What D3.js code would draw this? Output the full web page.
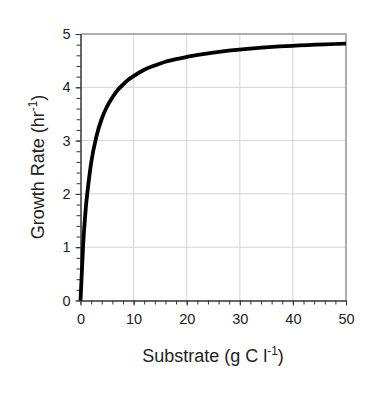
<!DOCTYPE html>
<html>
<head>
<meta charset="utf-8">
<script src="https://cdn.jsdelivr.net/npm/d3@7"></script>
<style>
  body { margin: 0; background: #fff; }
  text { font-family: "Liberation Sans", Arial, sans-serif; fill: #222; }
</style>
</head>
<body>
<svg width="389" height="393"></svg>
<script>
// substrate (g C / l) and growth rate (1/hr)
const substrate = [0, 0.5, 1, 1.5, 2, 3, 4, 5, 6, 7, 8, 9, 10, 12, 14, 16, 18, 20, 25, 50];
const growth = [0, 1.05, 1.74, 2.2, 2.58, 3.08, 3.41, 3.64, 3.81, 3.95, 4.05, 4.14, 4.21, 4.33, 4.41, 4.48, 4.53, 4.57, 4.65, 4.82];
const xTicks = [0, 10, 20, 30, 40, 50];
const yTicks = [0, 1, 2, 3, 4, 5];

const svg = d3.select("svg");
const mLeft = 80.5, mRight = 346, mTop = 34, mBottom = 300.5;

const x = d3.scaleLinear().domain([0, 50]).range([mLeft, mRight]);
const y = d3.scaleLinear().domain([0, 5]).range([mBottom, mTop]);

// gridlines
svg.append("g")
  .selectAll("line")
  .data(xTicks.slice(1))
  .enter()
  .append("line")
  .attr("x1", (d) => x(d)).attr("x2", (d) => x(d))
  .attr("y1", mTop).attr("y2", mBottom)
  .attr("stroke", "#d4d4d4").attr("stroke-width", 1);
svg.append("g")
  .selectAll("line")
  .data(yTicks.slice(1))
  .enter()
  .append("line")
  .attr("x1", mLeft).attr("x2", mRight)
  .attr("y1", (d) => y(d)).attr("y2", (d) => y(d))
  .attr("stroke", "#d4d4d4").attr("stroke-width", 1);

// plot frame (top and right)
svg.append("path")
  .attr("d", `M${mLeft},${mTop}H${mRight}V${mBottom}`)
  .attr("fill", "none").attr("stroke", "#999").attr("stroke-width", 1.5);

// minor ticks
const xMinor = d3.range(0, 50.01, 2);
const yMinor = d3.range(0, 5.01, 0.2);
svg.append("g").attr("transform", `translate(0,${mBottom})`)
  .call(d3.axisBottom(x).tickValues(xMinor).tickSize(4).tickFormat(""))
  .call((g) => g.select(".domain").remove());
svg.append("g").attr("transform", `translate(${mLeft},0)`)
  .call(d3.axisLeft(y).tickValues(yMinor).tickSize(4).tickFormat(""))
  .call((g) => g.select(".domain").remove());

// major axes
const xAxis = svg.append("g").attr("transform", `translate(0,${mBottom})`)
  .call(d3.axisBottom(x).tickValues(xTicks).tickSize(5).tickPadding(8).tickSizeOuter(0).tickFormat(d3.format("d")));
const yAxis = svg.append("g").attr("transform", `translate(${mLeft},0)`)
  .call(d3.axisLeft(y).tickValues(yTicks).tickSize(5).tickPadding(5).tickSizeOuter(0).tickFormat(d3.format("d")));
[xAxis, yAxis].forEach((g) => {
  g.selectAll("text").style("font-size", "14.5px").attr("fill", "#222");
  g.select(".domain").attr("stroke", "#333").attr("stroke-width", 1.5);
});
svg.selectAll(".tick line").attr("stroke", "#333");

// curve
svg.append("path")
  .datum(substrate.map((s, i) => [s, growth[i]]))
  .attr("fill", "none")
  .attr("stroke", "#000")
  .attr("stroke-width", 3.8)
  .attr("stroke-linejoin", "round")
  .attr("d", d3.line().x((d) => x(d[0])).y((d) => y(d[1])).curve(d3.curveMonotoneX));

// axis titles
const xt = svg.append("text")
  .attr("x", 213).attr("y", 362)
  .attr("text-anchor", "middle").style("font-size", "18px");
xt.append("tspan").text("Substrate (g C l");
xt.append("tspan").attr("dy", -7).style("font-size", "12px").text("-1");
xt.append("tspan").attr("dy", 7).text(")");

const yt = svg.append("text")
  .attr("transform", "translate(44,167) rotate(-90)")
  .attr("text-anchor", "middle").style("font-size", "18px");
yt.append("tspan").text("Growth Rate (hr");
yt.append("tspan").attr("dy", -7).style("font-size", "12px").text("-1");
yt.append("tspan").attr("dy", 7).text(")");
</script>
</body>
</html>
